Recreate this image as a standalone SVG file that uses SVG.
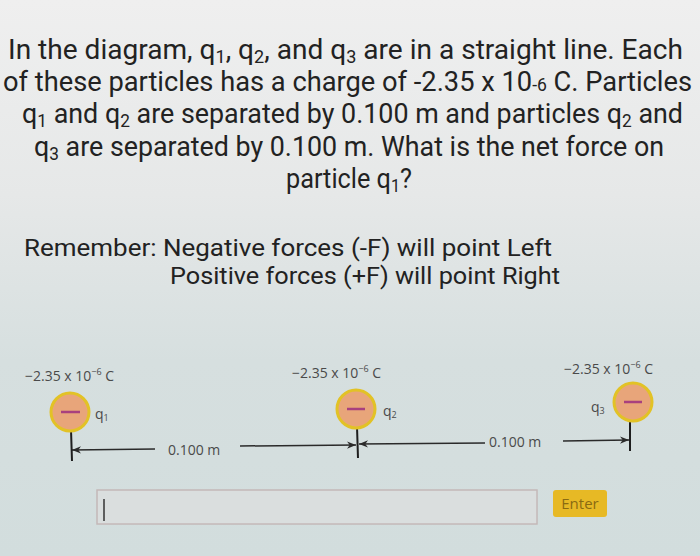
<svg xmlns="http://www.w3.org/2000/svg" width="700" height="556" viewBox="0 0 700 556">
<defs>
<linearGradient id="bg" x1="0" y1="0" x2="0" y2="1">
<stop offset="0" stop-color="#efefef"/>
<stop offset="0.35" stop-color="#e6e8e8"/>
<stop offset="0.65" stop-color="#d6dfdf"/>
<stop offset="1" stop-color="#d2dddd"/>
</linearGradient>
<marker id="ah" viewBox="0 0 10 10" refX="10" refY="5" markerWidth="9" markerHeight="9" orient="auto" markerUnits="userSpaceOnUse">
<path d="M0,1 L10,5 L0,9 L3,5 Z" fill="#2a2a2a"/>
</marker>
<style>
.q{font-family:Roboto,"Liberation Sans",sans-serif;font-size:28px;fill:#222}
.r{font-family:Roboto,"Liberation Sans",sans-serif;font-size:23px;fill:#222}
.s{font-size:18px}
.lab{font-family:"Open Sans","DejaVu Sans",sans-serif;font-size:14px;fill:#4a4a4a}
.ch{fill:#e8a57a;stroke:#e2c226;stroke-width:3}
.mn{stroke:#a8407e;stroke-width:2.5}
.stem{stroke:#1e1e1e;stroke-width:2}
.dim{stroke:#2a2a2a;stroke-width:1.5;fill:none}
</style>
</defs>
<rect width="700" height="556" fill="url(#bg)"/>
<g id="question">
<text class="q" x="8" y="59" textLength="675" lengthAdjust="spacingAndGlyphs">In the diagram, q<tspan class="s" dy="4">1</tspan><tspan dy="-4">, q</tspan><tspan class="s" dy="4">2</tspan><tspan dy="-4">, and q</tspan><tspan class="s" dy="4">3</tspan><tspan dy="-4"> are in a straight line. Each</tspan></text>
<text class="q" x="3" y="91" textLength="689" lengthAdjust="spacingAndGlyphs">of these particles has a charge of -2.35 x 10<tspan class="s">-6</tspan> C. Particles</text>
<text class="q" x="22" y="123" textLength="661" lengthAdjust="spacingAndGlyphs">q<tspan class="s" dy="4">1</tspan><tspan dy="-4"> and q</tspan><tspan class="s" dy="4">2</tspan><tspan dy="-4"> are separated by 0.100 m and particles q</tspan><tspan class="s" dy="4">2</tspan><tspan dy="-4"> and</tspan></text>
<text class="q" x="34" y="156" textLength="630" lengthAdjust="spacingAndGlyphs">q<tspan class="s" dy="4">3</tspan><tspan dy="-4"> are separated by 0.100 m. What is the net force on</tspan></text>
<text class="q" x="286" y="188" textLength="126" lengthAdjust="spacingAndGlyphs">particle q<tspan class="s" dy="4">1</tspan><tspan dy="-4">?</tspan></text>
</g>
<g id="remember">
<text class="r" x="24" y="256" textLength="528" lengthAdjust="spacingAndGlyphs">Remember: Negative forces (-F) will point Left</text>
<text class="r" x="170" y="284" textLength="390" lengthAdjust="spacingAndGlyphs">Positive forces (+F) will point Right</text>
</g>
<g id="connectors">
<line class="dim" x1="155" y1="449" x2="72" y2="450" marker-end="url(#ah)"/>
<line class="dim" x1="240" y1="446" x2="356" y2="445" marker-end="url(#ah)"/>
<line class="dim" x1="485" y1="443" x2="359" y2="444" marker-end="url(#ah)"/>
<line class="dim" x1="563" y1="441" x2="629" y2="440" marker-end="url(#ah)"/>
<text class="lab" x="168" y="455">0.100 m</text>
<text class="lab" x="489" y="447">0.100 m</text>
</g>
<g id="q1">
<text class="lab" x="25" y="381">−2.35 x 10<tspan font-size="9" dy="-6">−6</tspan><tspan dy="6"> C</tspan></text>
<line class="stem" x1="71" y1="430" x2="72" y2="461"/>
<circle class="ch" cx="70" cy="412" r="19"/>
<line class="mn" x1="61" y1="412" x2="80" y2="412"/>
<text class="lab" x="95" y="419" font-size="13">q<tspan font-size="9" dy="2">1</tspan></text>
</g>
<g id="q2">
<text class="lab" x="292" y="378">−2.35 x 10<tspan font-size="9" dy="-6">−6</tspan><tspan dy="6"> C</tspan></text>
<line class="stem" x1="357" y1="427" x2="358" y2="458"/>
<circle class="ch" cx="356" cy="409" r="19"/>
<line class="mn" x1="347" y1="409" x2="365" y2="409"/>
<text class="lab" x="383" y="416" font-size="13">q<tspan font-size="9" dy="2">2</tspan></text>
</g>
<g id="q3">
<text class="lab" x="564" y="374">−2.35 x 10<tspan font-size="9" dy="-6">−6</tspan><tspan dy="6"> C</tspan></text>
<line class="stem" x1="630" y1="420" x2="630" y2="451"/>
<circle class="ch" cx="633" cy="402" r="19"/>
<line class="mn" x1="624" y1="402" x2="642" y2="402"/>
<text class="lab" x="591" y="412" font-size="13">q<tspan font-size="9" dy="2">3</tspan></text>
</g>
<g id="answer">
<rect x="97" y="490" width="440" height="34" fill="#dadede" stroke="#c4b8b8" stroke-width="1.5"/>
<line x1="104" y1="499" x2="104" y2="521" stroke="#333" stroke-width="1.5"/>
</g>
<g id="enter">
<rect x="553" y="490" width="54" height="27" rx="3" fill="#e7b925"/>
<text x="580" y="509" text-anchor="middle" font-family="'Open Sans','DejaVu Sans',sans-serif" font-size="15" fill="#8a6a12">Enter</text>
</g>
</svg>
